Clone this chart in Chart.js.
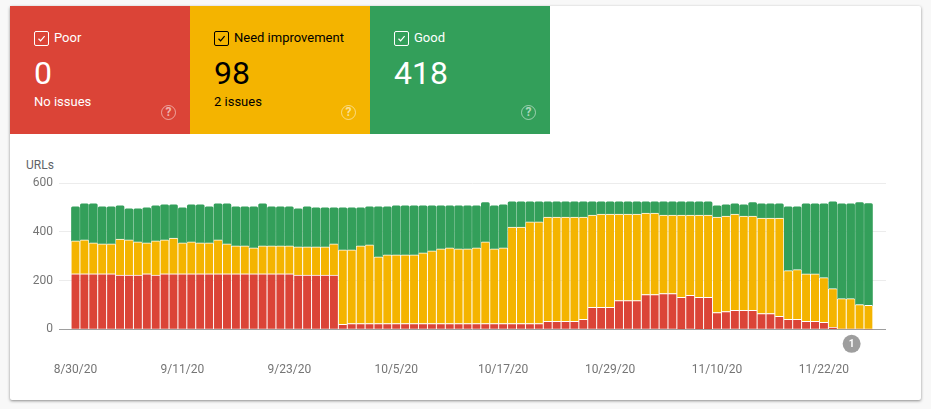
<!DOCTYPE html>
<html>
<head>
<meta charset="utf-8">
<title>Core Web Vitals</title>
<script src="https://cdn.jsdelivr.net/npm/chart.js@4/dist/chart.umd.min.js"></script>
<style>
  html, body { margin: 0; height: 100%; background: #f8f8f8; overflow: hidden; font-family: Roboto, sans-serif; }
  #card { position: absolute; left: 10px; top: 6px; width: 911px; height: 394px; background: #fff; border-radius: 2px;
          box-shadow: 0 1px 3px rgba(0,0,0,.45); }
  .tile { position: absolute; top: 6px; width: 180px; height: 128px; color: #fff; }
  .tile.dark { color: #000; }
  .check { position: absolute; left: 24px; top: 25px; width: 13px; height: 13px; border: 1px solid currentColor; border-radius: 2px; }
  .check svg { position: absolute; left: 1px; top: 1px; }
  .name { position: absolute; left: 44px; top: 23px; font-size: 13px; line-height: 17px; }
  .count { position: absolute; left: 24px; top: 48px; font-size: 32px; line-height: 38px; }
  .note { position: absolute; left: 24px; top: 87px; font-size: 13px; line-height: 17px; }
  .help { position: absolute; left: 151px; top: 99px; width: 13px; height: 13px; border: 1.5px solid rgba(255,255,255,.5); border-radius: 50%;
          color: rgba(255,255,255,.6); font-size: 12px; font-weight: 700; line-height: 13px; text-align: center; }
  #urls { position: absolute; left: 26px; top: 158px; font-size: 12px; line-height: 14px; color: #5f6368; }
  #chart { position: absolute; left: 10px; top: 170px; }
</style>
</head>
<body>
<div id="card"></div>
<div id="tiles"></div>
<div id="urls">URLs</div>
<canvas id="chart" width="911" height="230"></canvas>

<script>
const poor = [228,228,228,228,228,223,223,223,228,223,228,228,228,228,228,228,228,228,228,228,228,228,228,228,228,223,223,223,223,223,
  20,24,24,24,24,24,24,24,24,24,24,24,24,24,24,24,24,24,24,24,24,24,24,33,33,33,33,41,90,90,
  90,118,118,118,143,143,147,147,131,139,131,131,69,73,78,78,78,65,65,53,41,41,33,33,29,8,2,2,2,0];
const needImprovement = [135,139,127,123,123,148,144,136,127,140,139,147,127,131,127,127,139,123,115,115,107,115,115,115,115,116,116,116,116,128,
  306,302,319,323,274,282,282,282,282,290,298,306,311,306,306,311,335,306,311,396,396,417,417,428,428,428,428,420,379,383,
  383,355,355,355,334,334,322,322,338,330,338,338,392,392,395,387,387,392,392,404,200,204,195,195,183,159,124,124,100,98];
const good = [140,148,160,152,152,136,128,136,144,144,144,136,144,152,156,148,148,164,160,160,168,172,160,160,160,156,164,160,160,148,
  173,173,156,156,205,197,201,201,201,193,185,177,172,177,177,172,161,177,176,104,104,83,83,63,63,63,63,63,55,51,
  51,51,51,51,47,47,55,55,55,55,55,55,46,46,42,46,55,58,58,58,262,258,287,287,303,357,389,389,418,418];
const tickLabels = ['8/30/20','9/11/20','9/23/20','10/5/20','10/17/20','10/29/20','11/10/20','11/22/20'];
const yTicks = [0, 200, 400, 600];
const tickEvery = 12;
const annotationDay = 87;
const annotationText = '1';

const RED = '#db4437', YELLOW = '#f4b400', GREEN = '#339f5a';

// summary tiles above the chart
const tiles = [
  { name: 'Poor', count: '0', note: 'No issues', color: RED, left: 10, dark: false },
  { name: 'Need improvement', count: '98', note: '2 issues', color: YELLOW, left: 190, dark: true },
  { name: 'Good', count: '418', note: '', color: GREEN, left: 370, dark: false }
];
document.getElementById('tiles').innerHTML = tiles.map(t => `
  <div class="tile ${t.dark ? 'dark' : ''}" style="left:${t.left}px;background:${t.color}">
    <div class="check"><svg width="11" height="11" viewBox="0 0 11 11"><path d="M2.5 5.8 L4.6 7.8 L8.6 3.2" fill="none" stroke="currentColor" stroke-width="1.2"/></svg></div>
    <div class="name">${t.name}</div>
    <div class="count">${t.count}</div>
    <div class="note">${t.note}</div>
    <div class="help">?</div>
  </div>`).join('');

const days = poor.map((_, i) => i);
const series = values => values.map((v, i) => ({ x: days[i], y: v }));

// grey bubble under the axis on the day of the event
const annotationBubble = {
  id: 'annotationBubble',
  afterDraw(chart) {
    const { ctx, scales } = chart;
    const x = scales.x.getPixelForValue(annotationDay) + 1;
    const y = scales.y.getPixelForValue(0) + 14.5;
    ctx.save();
    ctx.fillStyle = '#9e9e9e';
    ctx.beginPath();
    ctx.arc(x, y, 9, 0, Math.PI * 2);
    ctx.fill();
    ctx.fillStyle = '#fff';
    ctx.font = '700 10px Roboto';
    ctx.textAlign = 'center';
    ctx.textBaseline = 'middle';
    ctx.fillText(annotationText, x, y + 0.5);
    ctx.restore();
  }
};

const segment = {
  barThickness: 8,
  borderColor: '#fff',
  borderWidth: { top: 1 },
  borderSkipped: false
};

new Chart(document.getElementById('chart'), {
  type: 'bar',
  data: {
    datasets: [
      { ...segment, label: 'Poor', data: series(poor), backgroundColor: RED },
      { ...segment, label: 'Need improvement', data: series(needImprovement), backgroundColor: YELLOW },
      { label: 'Good', data: series(good), backgroundColor: GREEN, barThickness: 8, borderWidth: 0,
        borderRadius: { topLeft: 1.5, topRight: 1.5 }, borderSkipped: false }
    ]
  },
  plugins: [annotationBubble],
  options: {
    responsive: false,
    animation: false,
    layout: { padding: { top: 12.3, right: 35, left: 0, bottom: 0 } },
    plugins: { legend: { display: false }, tooltip: { enabled: false } },
    scales: {
      x: {
        type: 'linear',
        stacked: true,
        offset: false,
        min: -1.85,
        max: 90.97,
        grid: { display: false },
        border: { display: false },
        afterBuildTicks: scale => { scale.ticks = tickLabels.map((_, i) => ({ value: i * tickEvery })); },
        afterFit: scale => { scale.height = 70.7; },
        ticks: {
          autoSkip: false,
          maxRotation: 0,
          padding: 25,
          color: '#757575',
          font: { family: 'Roboto', size: 12 },
          callback: value => tickLabels[value / tickEvery]
        }
      },
      y: {
        stacked: true,
        min: 0,
        max: 600,
        border: { display: false },
        grid: {
          drawTicks: false,
          color: c => c.tick.value === 0 ? '#9e9e9e' : '#ececec'
        },
        afterBuildTicks: scale => { scale.ticks = yTicks.map(v => ({ value: v })); },
        afterFit: scale => { scale.width = 49; },
        ticks: {
          padding: 6,
          color: '#757575',
          font: { family: 'Roboto', size: 12 }
        }
      }
    }
  }
});
</script>
</body>
</html>
